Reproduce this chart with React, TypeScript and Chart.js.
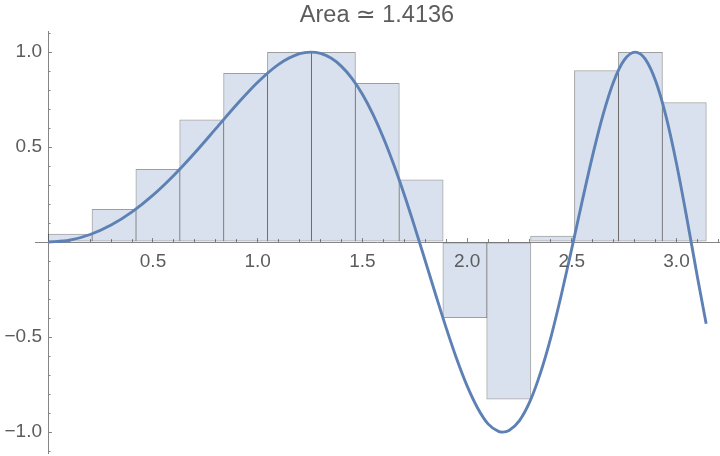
import React, { useEffect, useRef } from "react";
import { Chart, registerables } from "chart.js";

Chart.register(...registerables);

// ---- data ----
const chartTitle = "Area ≃ 1.4136";

// midpoints of the 15 rectangles on [0, π]
const barMidpoints = [
  0.1047, 0.3142, 0.5236, 0.733, 0.9425, 1.1519, 1.3614, 1.5708, 1.7802, 1.9897,
  2.1991, 2.4086, 2.618, 2.8274, 3.0369,
];
// rectangle heights
const barHeights = [
  0.0439, 0.1746, 0.3846, 0.6458, 0.8896, 1.0, 1.0, 0.8369, 0.3289, -0.3999,
  -0.8282, 0.0334, 0.9042, 1.0, 0.7359,
];

// curve samples
const curveX = [
  0, 0.1, 0.2, 0.3, 0.4, 0.5, 0.6, 0.7, 0.8, 0.9, 1.0, 1.1, 1.2, 1.2533, 1.3, 1.35,
  1.4, 1.45, 1.5, 1.55, 1.6, 1.65, 1.7, 1.75, 1.8, 1.85, 1.9, 1.95, 2.0, 2.05, 2.1,
  2.15, 2.1708, 2.2, 2.25, 2.3, 2.35, 2.4, 2.45, 2.5, 2.55, 2.6, 2.65, 2.7, 2.75,
  2.8025, 2.85, 2.9, 2.95, 3.0, 3.05, 3.1, 3.1416,
];
const curveY = [
  0, 0.01, 0.04, 0.0899, 0.1593, 0.2474, 0.3523, 0.4706, 0.5972, 0.7243, 0.8415,
  0.9356, 0.9915, 1.0, 0.9929, 0.9685, 0.925, 0.862, 0.7781, 0.6737, 0.5494, 0.4069,
  0.249, 0.079, -0.0982, -0.2772, -0.4515, -0.6139, -0.7568, -0.8728, -0.9566,
  -0.996, -1.0, -0.9917, -0.9393, -0.8383, -0.6894, -0.501, -0.277, -0.0332, 0.2175,
  0.459, 0.6738, 0.8457, 0.9578, 1.0, 0.9642, 0.8488, 0.6612, 0.4121, 0.122, -0.1845,
  -0.4303,
];

// tick labels
const xTickValues = [0.5, 1.0, 1.5, 2.0, 2.5, 3.0];
const xTickLabels = ["0.5", "1.0", "1.5", "2.0", "2.5", "3.0"];
const yTickValues = [-1.0, -0.5, 0.5, 1.0];
const yTickLabels = ["−1.0", "−0.5", "0.5", "1.0"];

// plot range
const xMin = -0.0635;
const xMax = 3.2029;
const yMin = -1.11;
const yMax = 1.11;

export default function App() {
  const ref = useRef<HTMLCanvasElement>(null);

  useEffect(() => {
    const canvas = ref.current;
    if (!canvas) return;
    const axisColor = "#858585";
    const textColor = "#5c5c5c";
    const family = "'Liberation Sans', 'DejaVu Sans', Arial, sans-serif";
    const noPad = (s: any) => {
      s.paddingLeft = 0;
      s.paddingRight = 0;
      s.paddingTop = 0;
      s.paddingBottom = 0;
    };
    const findLabel = (vals: number[], labs: string[], v: number) => {
      const i = vals.findIndex((t) => Math.abs(t - v) < 1e-6);
      return i >= 0 ? labs[i] : "";
    };

    const chart = new Chart(canvas, {
      type: "bar",
      data: {
        datasets: [
          {
            type: "line",
            label: "curve",
            data: curveX.map((x, i) => ({ x, y: curveY[i] })),
            xAxisID: "x",
            yAxisID: "y",
            borderColor: "#5e81b5",
            borderWidth: 2.9,
            pointRadius: 0,
            fill: false,
            cubicInterpolationMode: "monotone",
            order: 0,
          } as any,
          {
            type: "bar",
            label: "rectangles",
            data: barMidpoints.map((x, i) => ({ x, y: barHeights[i] })),
            xAxisID: "x",
            yAxisID: "y",
            backgroundColor: "rgba(94,129,181,0.24)",
            borderColor: "rgba(0,0,0,0.38)",
            borderWidth: 1,
            borderSkipped: false,
            barPercentage: 1.0228,
            categoryPercentage: 1,
            order: 1,
          } as any,
        ],
      },
      options: {
        responsive: false,
        animation: false,
        events: [],
        layout: { padding: { left: 35, right: 1, top: 0, bottom: 3 } },
        plugins: {
          legend: { display: false },
          tooltip: { enabled: false },
          title: {
            display: true,
            text: chartTitle,
            color: textColor,
            font: { family, size: 23.5, weight: "normal" },
            padding: { top: 1.5, bottom: 1.5 },
          },
        },
        scales: {
          x: {
            type: "linear",
            axis: "x",
            position: { y: 0 },
            min: xMin,
            max: xMax,
            offset: false,
            ticks: { display: false, stepSize: 0.5, includeBounds: false },
            grid: {
              offset: false,
              drawOnChartArea: false,
              drawTicks: true,
              tickLength: -5,
              color: axisColor,
              lineWidth: 1,
            },
            border: { display: true, color: axisColor, width: 1 },
            afterFit: noPad,
          },
          xMinor: {
            type: "linear",
            axis: "x",
            position: { y: 0 },
            min: xMin,
            max: xMax,
            offset: false,
            ticks: { display: false, stepSize: 0.1, includeBounds: false },
            grid: {
              offset: false,
              drawOnChartArea: false,
              drawTicks: true,
              tickLength: -3,
              color: axisColor,
              lineWidth: 1,
            },
            border: { display: false },
            afterFit: noPad,
          },
          xLabel: {
            type: "linear",
            axis: "x",
            position: { y: 0 },
            min: xMin,
            max: xMax,
            offset: false,
            grid: { offset: false, display: false, drawTicks: false },
            border: { display: false },
            ticks: {
              z: 1,
              padding: 8,
              color: textColor,
              font: { family, size: 19 },
              autoSkip: false,
              maxRotation: 0,
              callback: (v: any) => findLabel(xTickValues, xTickLabels, Number(v)),
            },
            afterBuildTicks: (s: any) => {
              s.ticks = xTickValues.map((value) => ({ value }));
            },
            afterFit: noPad,
          },
          y: {
            type: "linear",
            axis: "y",
            position: { x: 0 },
            min: yMin,
            max: yMax,
            ticks: { display: false, stepSize: 0.5, includeBounds: false },
            grid: {
              drawOnChartArea: false,
              drawTicks: true,
              tickLength: -4,
              color: axisColor,
              lineWidth: 1,
            },
            border: { display: true, color: axisColor, width: 1 },
            afterFit: noPad,
          },
          yMinor: {
            type: "linear",
            axis: "y",
            position: { x: 0 },
            min: yMin,
            max: yMax,
            ticks: { display: false, stepSize: 0.1, includeBounds: false },
            grid: {
              drawOnChartArea: false,
              drawTicks: true,
              tickLength: -2.5,
              color: axisColor,
              lineWidth: 1,
            },
            border: { display: false },
            afterFit: noPad,
          },
          yLabel: {
            type: "linear",
            axis: "y",
            position: { x: -0.03 },
            min: yMin,
            max: yMax,
            grid: { display: false, drawTicks: false },
            border: { display: false },
            ticks: {
              z: 1,
              padding: 0,
              color: textColor,
              font: { family, size: 19 },
              autoSkip: false,
              callback: (v: any) => findLabel(yTickValues, yTickLabels, Number(v)),
            },
            afterBuildTicks: (s: any) => {
              s.ticks = yTickValues.map((value) => ({ value }));
            },
            afterFit: noPad,
          },
        } as any,
      },
    });
    return () => chart.destroy();
  }, []);

  return (
    <div style={{ position: "absolute", left: 0, top: 0, width: 720, height: 456 }}>
      <canvas ref={ref} width={720} height={456} style={{ display: "block" }} />
    </div>
  );
}
